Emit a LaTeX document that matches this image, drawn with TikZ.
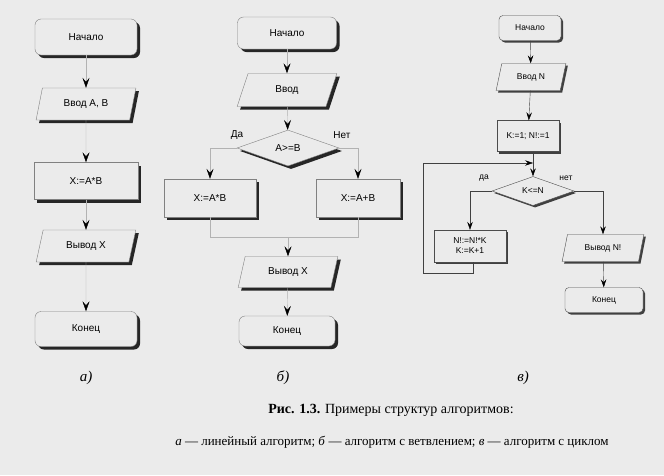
\documentclass[tikz,border=0pt]{standalone}
\usepackage{fontspec}
\setmainfont{Liberation Serif}
\newfontfamily\diag{Liberation Sans}
\usetikzlibrary{shapes.geometric,shadows,arrows.meta}
\begin{document}
\begin{tikzpicture}[x=1pt,y=-1pt,
  base/.style={draw=black!50,fill=black!8,thin,inner sep=0pt,font=\diag\fontsize{10}{12}\selectfont,align=center,
    drop shadow={shadow xshift=3pt,shadow yshift=-3pt,fill=black!85,opacity=1}},
  smallbase/.style={draw=black!70,fill=black!8,thin,inner sep=0pt,font=\diag\fontsize{8.5}{10}\selectfont,align=center,
    drop shadow={shadow xshift=2pt,shadow yshift=-2pt,fill=black!75,opacity=1}},
  term/.style={rounded corners=6pt},
  proc/.style={rectangle},
  io/.style={trapezium,trapezium left angle=70,trapezium right angle=110,trapezium stretches=true},
  dec/.style={diamond,aspect=2.8},
  flow/.style={draw=black!30,thin,-{Stealth[black,length=10pt,width=7pt,inset=4pt]}},
  line/.style={draw=black!30,thin},
  cflow/.style={draw=black!75,thin,-{Stealth[black,length=8pt,width=5.5pt,inset=3pt]}},
  cline/.style={draw=black!75,thin},
  lbl/.style={font=\diag\fontsize{10}{12}\selectfont},
  captxt/.style={font=\fontsize{15}{17}\selectfont\itshape}]
\fill[black!8] (0,0) rectangle (664,475);
\useasboundingbox (0,0) rectangle (664,475);
% panel a
\node[base,term,minimum width=102pt,minimum height=36pt] (a1) at (86,37) {Начало};
\node[base,io,minimum width=100pt,minimum height=32pt] (a2) at (86,104) {Ввод A, B};
\node[base,proc,minimum width=104pt,minimum height=37pt] (a3) at (86,181) {X:=A*B};
\node[base,io,minimum width=100pt,minimum height=32pt] (a4) at (86,246) {Вывод X};
\node[base,term,minimum width=102pt,minimum height=35pt] (a5) at (86,329) {Конец};
\draw[flow] (a1) -- (a2);
\draw[flow] (a2) -- (a3);
\draw[flow] (a3) -- (a4);
\draw[flow] (a4) -- (a5);
\node[captxt] (ca) at (86,378) {а)};
% panel b
\node[base,term,minimum width=99pt,minimum height=32pt] (b1) at (287,33) {Начало};
\node[base,io,minimum width=100pt,minimum height=33pt] (b2) at (287,90) {Ввод};
\node[base,dec,minimum width=102pt,minimum height=36pt] (b3) at (288,148) {A>=B};
\node[base,proc,minimum width=92pt,minimum height=38pt] (b4) at (210,198) {X:=A*B};
\node[base,proc,minimum width=84pt,minimum height=38pt] (b5) at (358,198) {X:=A+B};
\node[base,io,minimum width=100pt,minimum height=31pt] (b6) at (288,272) {Вывод X};
\node[base,term,minimum width=96pt,minimum height=30pt] (b7) at (287,331) {Конец};
\coordinate (bm) at (288,237);
\draw[flow] (b1) -- (b2);
\draw[flow] (b2) -- (b3);
\draw[flow] (b3.west) -| (b4.north);
\draw[flow] (b3.east) -| (b5.north);
\draw[line] (b4.south) |- (bm);
\draw[line] (b5.south) |- (bm);
\draw[flow] (bm) -- (b6);
\draw[flow] (b6) -- (b7);
\node[lbl] (bda) at (237,135) {Да};
\node[lbl] (bnet) at (342,135) {Нет};
\node[captxt] (cb) at (283,378) {б)};
% panel c
\node[smallbase,term,rounded corners=4pt,minimum width=62pt,minimum height=25pt] (c1) at (530,28) {Начало};
\node[smallbase,io,minimum width=70pt,minimum height=27pt] (c2) at (531,77) {Ввод N};
\node[smallbase,proc,minimum width=62pt,minimum height=31pt] (c3) at (528,136) {K:=1; N!:=1};
\node[smallbase,dec,minimum width=82pt,minimum height=29pt] (c4) at (533,191) {K<=N};
\node[smallbase,proc,minimum width=72pt,minimum height=32pt] (c5) at (470,246) {N!:=N!*K\\K:=K+1};
\node[smallbase,io,minimum width=82pt,minimum height=27pt] (c6) at (603,248) {Вывод N!};
\node[smallbase,term,rounded corners=4pt,minimum width=78pt,minimum height=25pt] (c7) at (604,300) {Конец};
\coordinate (cj) at (533,163);
\coordinate (cl1) at (473,273);
\coordinate (cl2) at (423,273);
\coordinate (cl3) at (423,163);
\draw[cflow] (c1) -- (c2);
\draw[cflow] (c2) -- (c3);
\draw[cflow] (c3.south -| c4.north) -- (c4.north);
\draw[cflow] (c4.west) -| (c5.north);
\draw[cflow] (c4.east) -| (c6.north);
\draw[cflow] (c6) -- (c7);
\draw[cline] (c5.south -| cl1) -- (cl1) -- (cl2) -- (cl3);
\draw[cflow] (cl3) -- (cj);
\node[lbl,font=\diag\fontsize{8.5}{10}\selectfont] (cda) at (484,178) {да};
\node[lbl,font=\diag\fontsize{8.5}{10}\selectfont] (cnet) at (566,178) {нет};
\node[captxt] (cc) at (523,378) {в)};
% caption
\node[font=\fontsize{14}{16}\selectfont] (t1) at (391,410) {\textbf{Рис. 1.3.} Примеры структур алгоритмов:};
\node[font=\fontsize{13}{15}\selectfont] (t2) at (392,442) {\textit{а} — линейный алгоритм; \textit{б} — алгоритм с ветвлением; \textit{в} — алгоритм с циклом};
\end{tikzpicture}
\end{document}
